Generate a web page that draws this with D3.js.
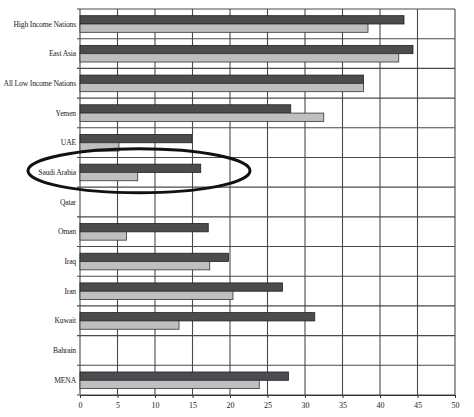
<!DOCTYPE html>
<html><head><meta charset="utf-8">
<script src="https://cdn.jsdelivr.net/npm/d3@7/dist/d3.min.js"></script>
<style>body{margin:0;background:#fff}svg{display:block}</style>
</head><body>
<script>
const categories = ["High Income Nations","East Asia","All Low Income Nations","Yemen","UAE","Saudi Arabia","Qatar","Oman","Iraq","Iran","Kuwait","Bahrain","MENA"];
const darkValues  = [43.2,44.4,37.8,28.1,14.9,16.1,null,17.1,19.8,27.0,31.3,null,27.8];
const lightValues = [38.4,42.5,37.8,32.5,5.2,7.7,null,6.2,17.3,20.4,13.2,null,23.9];
const xTicks = [0,5,10,15,20,25,30,35,40,45,50];

const W=474,H=417, L=80, R=455, T=9, B=395;
const svg=d3.select("body").append("svg").attr("width",W).attr("height",H);
const x=d3.scaleLinear().domain([0,50]).range([L,R]);
const y=d3.scaleBand().domain(categories).range([T,B]);
const bw=y.bandwidth(), barH=bw*0.28, off=bw*0.225;
const font="'Liberation Serif','DejaVu Serif',serif";

// vertical grid
svg.append("g").selectAll("line").data(xTicks).join("line")
  .attr("x1",d=>x(d)).attr("x2",d=>x(d)).attr("y1",T).attr("y2",B)
  .attr("stroke","#4a4a4a").attr("stroke-width",1.1);
// horizontal grid at band boundaries
const bounds=categories.map(c=>y(c)).concat([B]);
svg.append("g").selectAll("line").data(bounds).join("line")
  .attr("x1",L-3).attr("x2",R).attr("y1",d=>d).attr("y2",d=>d)
  .attr("stroke","#4a4a4a").attr("stroke-width",1.1);

// bars
const rows=categories.map((c,i)=>({c,d:darkValues[i],l:lightValues[i]}));
svg.append("g").selectAll("rect").data(rows.filter(r=>r.d!=null)).join("rect")
  .attr("x",x(0)).attr("y",r=>y(r.c)+off).attr("width",r=>x(r.d)-x(0)).attr("height",barH)
  .attr("fill","#4b4b50").attr("stroke","#222").attr("stroke-width",0.8);
svg.append("g").selectAll("rect").data(rows.filter(r=>r.l!=null)).join("rect")
  .attr("x",x(0)).attr("y",r=>y(r.c)+off+barH).attr("width",r=>x(r.l)-x(0)).attr("height",barH)
  .attr("fill","#bfbfbf").attr("stroke","#333").attr("stroke-width",0.8);

// category labels
svg.append("g").selectAll("text").data(categories).join("text")
  .attr("x",L-4).attr("y",c=>y(c)+bw/2).attr("dy","0.35em").attr("text-anchor","end")
  .attr("font-family",font).attr("font-size",7.6).attr("letter-spacing",-0.15)
  .attr("fill","#222").text(c=>c);

// x axis
const ax=svg.append("g").attr("transform",`translate(0,${B})`)
  .call(d3.axisBottom(x).tickValues(xTicks).tickSize(3).tickFormat(d3.format("d")));
ax.select(".domain").attr("stroke","#333");
ax.selectAll("line").attr("stroke","#333");
ax.selectAll("text").attr("font-family",font).attr("font-size",8).attr("fill","#222").attr("dy","0.9em");

// hand-drawn ellipse annotation
svg.append("ellipse").attr("cx",139).attr("cy",y("Saudi Arabia")+bw*0.45).attr("rx",111).attr("ry",22)
  .attr("fill","none").attr("stroke","#111").attr("stroke-width",3);
</script>
</body></html>
